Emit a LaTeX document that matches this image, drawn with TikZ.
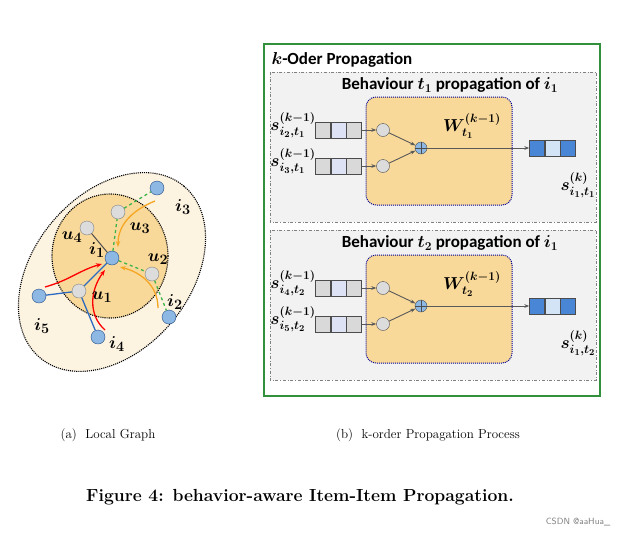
\documentclass[tikz,border=0pt]{standalone}
\usepackage{fontspec}
\usepackage{amsmath,bm}
\newfontfamily\cb{Carlito}
\usetikzlibrary{arrows.meta,positioning}
\definecolor{lo}{HTML}{FDF3E1}
\definecolor{mo}{HTML}{F9D99A}
\definecolor{bn}{HTML}{8DB8E4}
\definecolor{gn}{HTML}{DCDCDC}
\definecolor{gg}{HTML}{3CB44A}
\definecolor{org}{HTML}{F5A623}
\definecolor{bl}{HTML}{2E6BC0}
\definecolor{cellg}{HTML}{D9D9D9}
\definecolor{cellb}{HTML}{DDE3F5}
\definecolor{vb}{HTML}{4A86D6}
\definecolor{vl}{HTML}{D4E4F7}
\begin{document}
\begin{tikzpicture}[x=1pt,y=-1pt,
 item/.style={circle,draw=bl!70!black,fill=bn,minimum size=14pt,inner sep=0},
 user/.style={circle,draw=gray,fill=gn,minimum size=14pt,inner sep=0},
 lab/.style={font=\fontsize{19}{19}\selectfont},
 gd/.style={gg,dashed,line width=1.3pt},
 bd/.style={bl,line width=1.3pt},
 ra/.style={red,line width=1.3pt,-{Stealth[length=6pt]}},
 oa/.style={org,line width=1.3pt,-{Stealth[length=6pt]}},
 cell/.style={draw=black!70,minimum width=15pt,minimum height=16pt,inner sep=0},
 neur/.style={circle,draw=black!70,fill=gn,minimum size=13pt,inner sep=0},
 ar/.style={gray!70!black,line width=0.9pt,-{Stealth[length=5pt]}},
 mth/.style={font=\fontsize{18}{18}\selectfont},
 sans/.style={font=\cb\bfseries\fontsize{17}{17}\selectfont}]
\useasboundingbox (0,0) rectangle (631,536);
% left
\fill[lo,draw=black,densely dotted,line width=1.1pt,rotate around={50:(112,272)}] (112,272) ellipse (112 and 78);
\fill[mo,draw=black,densely dotted,line width=1.1pt] (110,256) ellipse (58 and 62);
\node[item] (i1) at (112,258){};
\node[user] (u4) at (87,228){};
\node[user] (u3) at (118,212){};
\node[item] (i3) at (157,188){};
\node[user] (u2) at (152,274){};
\node[item] (i2) at (169,317){};
\node[user] (u1) at (79,291){};
\node[item] (i5) at (39,296){};
\node[item] (i4) at (98,337){};
\draw[gray!60!black,line width=1pt] (u4)--(i1);
\draw[gd] (i1)--(u3)--(i3);
\draw[gd] (i1)--(u2)--(i2);
\draw[bd] (i1)--(u1)--(i5);
\draw[bd] (u1)--(i4);
\draw[ra] (45,287) .. controls (70,280) and (80,270) .. (102,264);
\draw[ra] (105,330) .. controls (88,315) and (90,290) .. (105,270);
\draw[oa] (155,201) .. controls (128,212) and (118,228) .. (118,247);
\draw[oa] (158,308) .. controls (158,285) and (140,272) .. (120,267);
\node[lab] at (72,237){$\bm{u_4}$};
\node[lab] at (97,250){$\bm{i_1}$};
\node[lab] at (140,228){$\bm{u_3}$};
\node[lab] at (183,207){$\bm{i_3}$};
\node[lab] at (158,259){$\bm{u_2}$};
\node[lab] at (175,302){$\bm{i_2}$};
\node[lab] at (102,297){$\bm{u_1}$};
\node[lab] at (42,326){$\bm{i_5}$};
\node[lab] at (117,344){$\bm{i_4}$};
% right
\draw[gg!80!black,line width=1.3pt] (264,44) rectangle (600,396);
\node[sans,anchor=west] (ttl) at (268,60){$\bm{k}$-Oder Propagation};
\foreach \dy/\t/\a/\b in {0/1/2/3,158/2/4/5}{
 \begin{scope}[yshift=-\dy]
 \fill[black!5] (270,72) rectangle (596,222);
 \draw[gray,dash dot,line width=1pt] (270,72) rectangle (596,222);
 \node[fill=mo,draw=blue!60!black,densely dotted,line width=1pt,rounded corners=10pt,minimum width=146pt,minimum height=108pt] (ob\t) at (439,151){};
 \node[sans,fill=black!5,inner sep=1pt] (bt\t) at (450,85){Behaviour $\bm{t_\t}$ propagation of $\bm{i_1}$};
 \node[cell,fill=cellg] (a1\t) at (323,130){};
 \node[cell,fill=cellb,right=0pt of a1\t] (a2\t){};
 \node[cell,fill=cellg,right=0pt of a2\t] (a3\t){};
 \node[cell,fill=cellg] (b1\t) at (323,166){};
 \node[cell,fill=cellb,right=0pt of b1\t] (b2\t){};
 \node[cell,fill=cellg,right=0pt of b2\t] (b3\t){};
 \node[neur] (n1\t) at (383,130){};
 \node[neur] (n2\t) at (383,166){};
 \node[circle,draw=black!70,fill=bn,minimum size=12pt,inner sep=0] (pl\t) at (421,148){};
 \draw[black!70] (pl\t.north)--(pl\t.south) (pl\t.west)--(pl\t.east);
 \node[cell,fill=vb] (c1\t) at (537,148){};
 \node[cell,fill=vl,right=0pt of c1\t] (c2\t){};
 \node[cell,fill=vb,right=0pt of c2\t] (c3\t){};
 \draw[ar] (a3\t)--(n1\t); \draw[ar] (b3\t)--(n2\t);
 \draw[ar] (n1\t)--(pl\t); \draw[ar] (n2\t)--(pl\t);
 \draw[ar] (pl\t)--(c1\t);
 \node[mth,inner sep=0] (sa\t) at (293,125){$\bm{s^{(k-1)}_{i_\a,t_\t}}$};
 \node[mth,inner sep=0] (sb\t) at (293,161){$\bm{s^{(k-1)}_{i_\b,t_\t}}$};
 \node[mth] (w\t) at (472,126){$\bm{W^{(k-1)}_{t_\t}}$};
 \node[mth,inner sep=0] (so\t) at (578,185){$\bm{s^{(k)}_{i_1,t_\t}}$};
 \end{scope}}
% captions
\node[font=\fontsize{13}{13}\selectfont] (ca) at (108,435){(a)\ \ Local Graph};
\node[font=\fontsize{13}{13}\selectfont] (cb) at (428,435){(b)\ \ k-order Propagation Process};
\node[font=\bfseries\fontsize{17.5}{18}\selectfont] (fig) at (300,497){Figure 4: behavior-aware Item-Item Propagation.};
\node[font=\sffamily\fontsize{9}{9}\selectfont,text=gray] (wm) at (578,522){CSDN @aaHua\_};
\end{tikzpicture}
\end{document}
